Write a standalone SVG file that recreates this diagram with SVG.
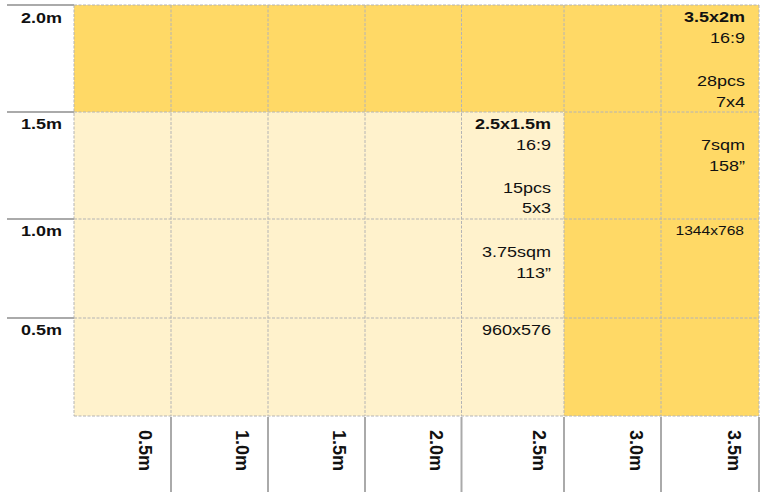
<svg xmlns="http://www.w3.org/2000/svg" width="768" height="501" viewBox="0 0 768 501">
<style>
.dark{fill:#FFD966}
.light{fill:#FFF2CC}
.grid line{stroke:#b4b4b4;stroke-width:1;stroke-dasharray:3 1.5}
.axis line{stroke:#aaaaaa;stroke-width:2}
text{font-family:"Liberation Sans",Arial,sans-serif;fill:#111;font-size:15px}
.b{font-weight:bold}
.r{text-anchor:end}
.s{font-size:13px}
.col{font-weight:bold;font-size:18px}
</style>
<rect width="768" height="501" fill="#fff"/>
<g id="areas">
<rect class="light" x="74" y="112" width="490" height="304"/>
<rect class="dark" x="74" y="5" width="685" height="107"/>
<rect class="dark" x="564" y="112" width="195" height="304"/>
</g>
<g id="connectors">
<g class="grid">
<line x1="74" y1="5" x2="74" y2="416"/>
<line x1="171" y1="5" x2="171" y2="416"/>
<line x1="268" y1="5" x2="268" y2="416"/>
<line x1="365" y1="5" x2="365" y2="416"/>
<line x1="461.5" y1="5" x2="461.5" y2="416"/>
<line x1="564" y1="5" x2="564" y2="416"/>
<line x1="661" y1="5" x2="661" y2="416"/>
<line x1="759" y1="5" x2="759" y2="416"/>
<line x1="74" y1="5" x2="759" y2="5"/>
<line x1="74" y1="112" x2="759" y2="112"/>
<line x1="74" y1="219" x2="759" y2="219"/>
<line x1="74" y1="318" x2="759" y2="318"/>
<line x1="74" y1="416" x2="759" y2="416"/>
</g>
<g class="axis">
<line x1="7" y1="5" x2="74" y2="5"/>
<line x1="7" y1="112" x2="74" y2="112"/>
<line x1="7" y1="219" x2="74" y2="219"/>
<line x1="7" y1="318" x2="74" y2="318"/>
<line x1="171" y1="417" x2="171" y2="492"/>
<line x1="268" y1="417" x2="268" y2="492"/>
<line x1="365" y1="417" x2="365" y2="492"/>
<line x1="461.5" y1="417" x2="461.5" y2="492"/>
<line x1="564" y1="417" x2="564" y2="492"/>
<line x1="661" y1="417" x2="661" y2="492"/>
<line x1="759" y1="417" x2="759" y2="492"/>
</g>
</g>
<g id="row-labels">
<text class="b r" transform="translate(62,23) scale(1.2,1)">2.0m</text>
<text class="b r" transform="translate(62,129) scale(1.2,1)">1.5m</text>
<text class="b r" transform="translate(62,236) scale(1.2,1)">1.0m</text>
<text class="b r" transform="translate(62,335) scale(1.2,1)">0.5m</text>
</g>
<g id="col-labels">
<text class="col" transform="translate(139,430) rotate(90)">0.5m</text>
<text class="col" transform="translate(236,430) rotate(90)">1.0m</text>
<text class="col" transform="translate(333,430) rotate(90)">1.5m</text>
<text class="col" transform="translate(430,430) rotate(90)">2.0m</text>
<text class="col" transform="translate(532.5,430) rotate(90)">2.5m</text>
<text class="col" transform="translate(630,430) rotate(90)">3.0m</text>
<text class="col" transform="translate(727.5,430) rotate(90)">3.5m</text>
</g>
<g id="screen-large">
<text class="b r" transform="translate(745,22) scale(1.2,1)">3.5x2m</text>
<text class="r" transform="translate(745,43) scale(1.2,1)">16:9</text>
<text class="r" transform="translate(745,86) scale(1.2,1)">28pcs</text>
<text class="r" transform="translate(745,107) scale(1.2,1)">7x4</text>
<text class="r" transform="translate(745,150) scale(1.2,1)">7sqm</text>
<text class="r" transform="translate(745,171) scale(1.2,1)">158”</text>
<text class="r s" transform="translate(744,235) scale(1.2,1)">1344x768</text>
</g>
<g id="screen-small">
<text class="b r" transform="translate(551,129) scale(1.2,1)">2.5x1.5m</text>
<text class="r" transform="translate(551,150) scale(1.2,1)">16:9</text>
<text class="r" transform="translate(551,193) scale(1.2,1)">15pcs</text>
<text class="r" transform="translate(551,213) scale(1.2,1)">5x3</text>
<text class="r" transform="translate(551,257) scale(1.2,1)">3.75sqm</text>
<text class="r" transform="translate(551,278) scale(1.2,1)">113”</text>
<text class="r" transform="translate(551,335) scale(1.2,1)">960x576</text>
</g>
</svg>
